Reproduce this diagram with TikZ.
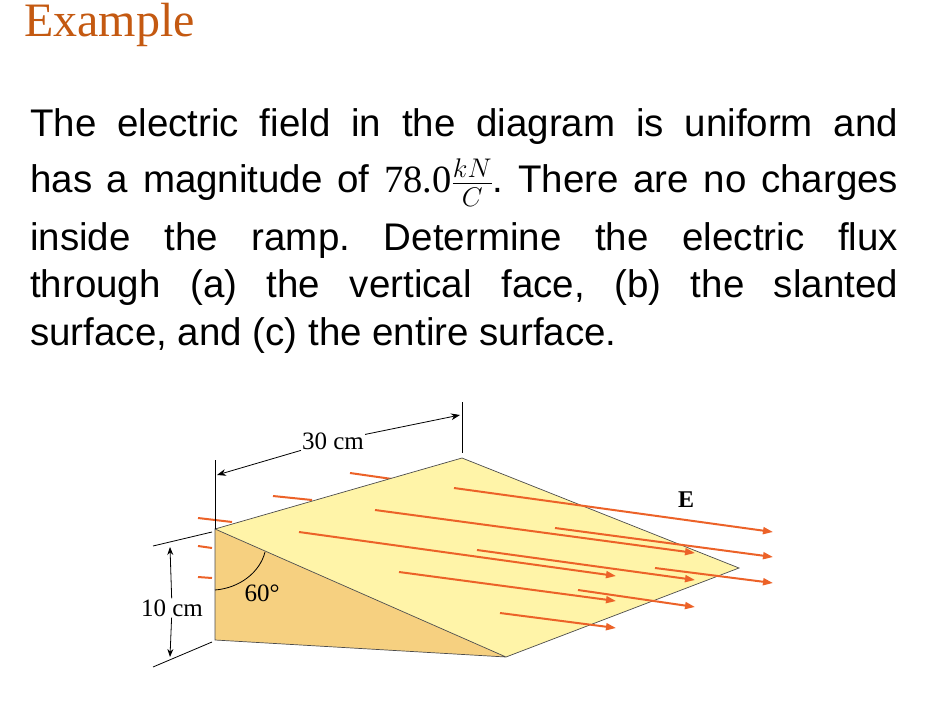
\RequirePackage{fix-cm}
\documentclass[tikz,border=0pt]{standalone}
\usepackage{fontspec}
\setmainfont{Liberation Serif}
\newfontfamily\arialf{Liberation Sans}
\usetikzlibrary{arrows.meta}
\definecolor{titlec}{RGB}{196,89,17}
\definecolor{facec}{RGB}{255,244,168}
\definecolor{sidec}{RGB}{246,208,128}
\definecolor{arrc}{RGB}{236,98,40}
\frenchspacing
\tikzset{
 para/.style={anchor=base west,inner sep=0pt,font=\arialf\fontsize{38.5}{44}\selectfont},
 field/.style={arrc,line width=2pt,-{Triangle[length=10pt,width=7pt]}},
 stub/.style={arrc,line width=2pt},
 dim/.style={black,line width=0.8pt},
 lbl/.style={font=\fontsize{25}{28}\selectfont,inner sep=1pt},
}
\newcommand{\jline}[1]{\makebox[868pt][s]{#1}}
\begin{document}
\begin{tikzpicture}[x=1pt,y=-1pt]
\useasboundingbox (0,0) rectangle (945,727);
\node[anchor=base west,inner sep=0pt,text=titlec,font=\fontsize{48}{52}\selectfont] (title) at (24,37) {Example};
\node[para] (l1) at (30,137) {\jline{The electric field in the diagram is uniform and}};
\node[para] (l2) at (30,193) {\jline{has a magnitude of {\rmfamily 78.0}$\frac{kN}{C}$. There are no charges}};
\node[para] (l3) at (30,251) {\jline{inside the ramp. Determine the electric flux}};
\node[para] (l4) at (30,298) {\jline{through (a) the vertical face, (b) the slanted}};
\node[para] (l5) at (30,345) {surface, and (c) the entire surface.};
% corners
\coordinate (A) at (215,529);
\coordinate (B) at (215,640);
\coordinate (C) at (506,657);
\coordinate (D) at (462,458);
\coordinate (F) at (739,568);
% stubs behind
\draw[stub] (350,473) -- (392,479);
\draw[stub] (273,496) -- (312,500);
\draw[stub] (198,518) -- (232,522);
\draw[stub] (198,546) -- (212,548);
\draw[stub] (198,577) -- (212,578);
% faces
\fill[sidec] (A) -- (B) -- (C) -- cycle;
\fill[facec] (A) -- (D) -- (F) -- (C) -- cycle;
\draw[black!70,line width=0.7pt] (A) -- (D) -- (F) -- (C) -- (A) -- (B) -- (C);
% field arrows
\draw[field] (454,488) -- (773,532);
\draw[field] (375,510) -- (695,553);
\draw[field] (555,528) -- (773,557);
\draw[field] (299,532) -- (616,576);
\draw[field] (477,550) -- (695,580);
\draw[field] (655,568) -- (773,583);
\draw[field] (399,572) -- (616,601);
\draw[field] (578,590) -- (695,607);
\draw[field] (500,613) -- (616,628);
\node[font=\bfseries\fontsize{24}{28}\selectfont] (E) at (686,500) {E};
% angle
\draw[line width=0.8pt] (215,590) .. controls (240,588) and (260,572) .. (265,552);
\node[lbl] (ang) at (262,593) {60°};
% dimensions
\coordinate (v1) at (215,460);
\draw[dim] (v1) -- (A);
\coordinate (v2t) at (462,402);
\coordinate (v2b) at (462,453);
\draw[dim] (v2t) -- (v2b);
\node[lbl,fill=white] (w) at (333,441) {30 cm};
\coordinate (w1) at (217,475);
\coordinate (w2) at (460,415);
\draw[dim,-{Stealth[length=9pt]}] (w) -- (w1);
\draw[dim,-{Stealth[length=9pt]}] (w) -- (w2);
\coordinate (e1) at (153,546);
\coordinate (e2) at (153,667);
\draw[dim] (e1) -- (212,532);
\draw[dim] (e2) -- (212,642);
\node[lbl,fill=white] (h) at (172,608) {10 cm};
\draw[dim,-{Stealth[length=8pt]}] (h) -- (170,547);
\draw[dim,-{Stealth[length=8pt]}] (h) -- (170,657);
\end{tikzpicture}
\end{document}
